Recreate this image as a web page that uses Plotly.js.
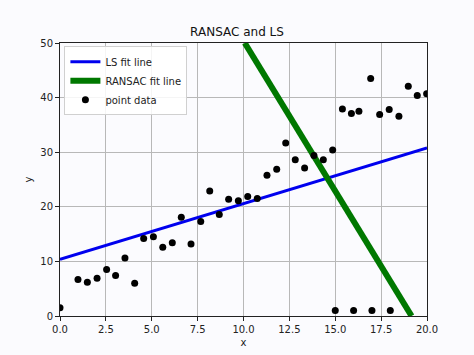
<!DOCTYPE html>
<html>
<head>
<meta charset="utf-8">
<script src="https://cdn.plot.ly/plotly-3.0.1.min.js"></script>
<style>html,body{margin:0;padding:0;background:#fbfbfe;}#chart{width:474px;height:355px;}</style>
</head>
<body>
<div id="chart"></div>
<script>
const pointX = [0, 0.98, 1.49, 2.02, 2.54, 3.03, 3.54, 4.07, 4.56, 5.09, 5.6, 6.12, 6.61, 7.14, 7.67, 8.16, 8.68, 9.19, 9.72, 10.23, 10.75, 11.28, 11.81, 12.3, 12.82, 13.33, 13.84, 14.35, 14.86, 15.39, 15.88, 16.29, 16.93, 17.42, 17.94, 18.47, 18.98, 19.47, 19.98, 15, 16, 17, 18];
const pointY = [1.5, 6.7, 6.2, 6.9, 8.5, 7.4, 10.6, 6.0, 14.2, 14.5, 12.6, 13.4, 18.1, 13.2, 17.3, 22.9, 18.6, 21.4, 21.1, 21.9, 21.5, 25.8, 26.9, 31.7, 28.6, 27.1, 29.4, 28.6, 30.4, 37.9, 37.1, 37.5, 43.5, 36.9, 37.8, 36.6, 42.1, 40.4, 40.7, 1.0, 1.0, 1.0, 1.0];
const lsX = [0, 20];
const lsY = [10.4, 30.8];
const ransacX = [10.07, 19.16];
const ransacY = [50, 0];
const xTicks = [0, 2.5, 5, 7.5, 10, 12.5, 15, 17.5, 20];
const xTickText = ['0.0', '2.5', '5.0', '7.5', '10.0', '12.5', '15.0', '17.5', '20.0'];
const yTicks = [0, 10, 20, 30, 40, 50];

const traces = [
  {x: lsX, y: lsY, mode: 'lines', name: 'LS fit line', line: {color: '#0000ee', width: 3}},
  {x: ransacX, y: ransacY, mode: 'lines', name: 'RANSAC fit line', line: {color: '#007800', width: 6}},
  {x: pointX, y: pointY, mode: 'markers', name: 'point data', marker: {color: '#000000', size: 7}, cliponaxis: true}
];
const axisCommon = {
  showline: true, mirror: true, linecolor: '#222', linewidth: 1,
  ticks: 'outside', ticklen: 4, tickcolor: '#222',
  showgrid: true, gridcolor: '#b8b8b8', gridwidth: 1, zeroline: false,
  tickfont: {family: 'DejaVu Sans', size: 10, color: '#222'}
};
const layout = {
  width: 474, height: 355,
  margin: {l: 60, r: 47, t: 43, b: 39},
  paper_bgcolor: '#fbfbfe', plot_bgcolor: '#fbfbfe',
  title: {text: 'RANSAC and LS', font: {family: 'DejaVu Sans', size: 12, color: '#111'}, x: 0.5, xanchor: 'center', y: 1 - 32/355, yanchor: 'middle'},
  xaxis: Object.assign({}, axisCommon, {range: [0, 20], tickvals: xTicks, ticktext: xTickText,
    title: {text: 'x', font: {family: 'DejaVu Sans', size: 10, color: '#222'}, standoff: 4}}),
  yaxis: Object.assign({}, axisCommon, {range: [0, 50], tickvals: yTicks,
    title: {text: 'y', font: {family: 'DejaVu Sans', size: 10, color: '#222'}, standoff: 5}}),
  showlegend: true,
  legend: {x: 0.012, y: 0.988, xanchor: 'left', yanchor: 'top', bgcolor: 'rgba(255,255,255,0.85)', bordercolor: '#d0d0d0', borderwidth: 1,
    font: {family: 'DejaVu Sans', size: 10, color: '#222'}, tracegroupgap: 0, itemwidth: 30}
};
Plotly.newPlot('chart', traces, layout, {staticPlot: true, displayModeBar: false});
</script>
</body>
</html>
